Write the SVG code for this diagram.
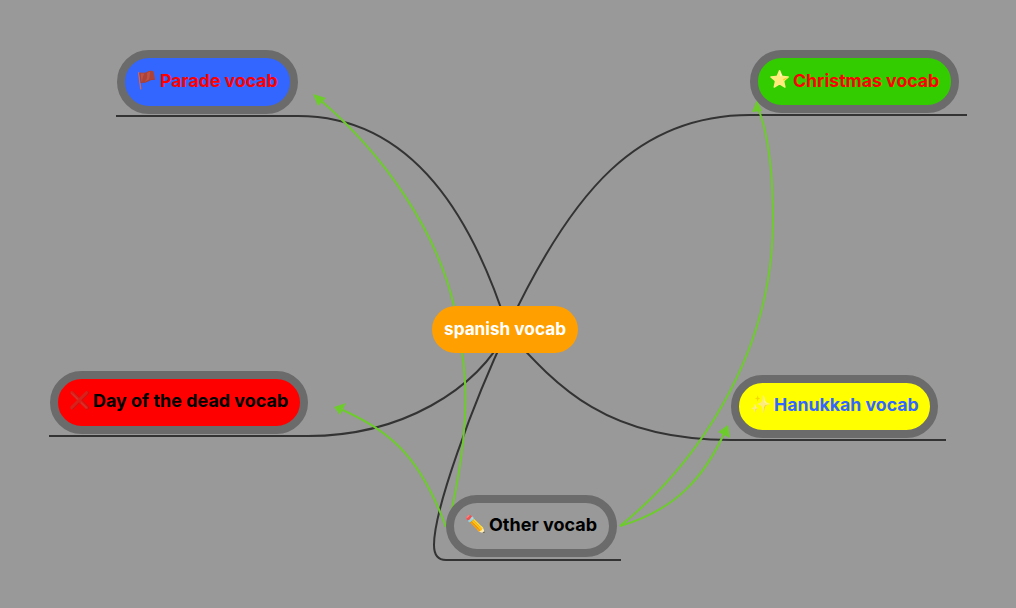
<svg xmlns="http://www.w3.org/2000/svg" width="1016" height="608" viewBox="0 0 1016 608">
<defs>
<filter id="flagTint" color-interpolation-filters="sRGB"><feColorMatrix type="matrix" values="0.3 0 0 0 0.6  0 0.3 0 0 0.18  0 0 0.3 0 0.14  0 0 0 1 0"/></filter>
<filter id="dim" color-interpolation-filters="sRGB"><feColorMatrix type="matrix" values="0.88 0 0 0 0  0 0.5 0 0 0  0 0 0.5 0 0  0 0 0 1 0"/></filter>
<filter id="pale" color-interpolation-filters="sRGB"><feComponentTransfer><feFuncG type="gamma" exponent="0.45"/><feFuncB type="gamma" exponent="0.45"/></feComponentTransfer></filter>
</defs>
<style>
.n{stroke:#6b6b6b;stroke-width:8}
.t{font-family:"Inter","Noto Sans",sans-serif;font-weight:700;font-size:17.7px}
.e{font-family:"Noto Color Emoji","Noto Sans",sans-serif;font-size:17px}
.c{fill:none;stroke:#333;stroke-width:2}
.g{fill:none;stroke:#6dcc2c;stroke-width:2}
</style>
<rect width="1016" height="608" fill="#999"/>
<g id="connectors">
<path class="c" d="M508 329C474 222 415 116 298 116H116"/>
<path class="c" d="M507 329C572 190 638 115 750 115H967"/>
<path class="c" d="M508 329C477 391 400 436 308 436H49"/>
<path class="c" d="M505 329C557 386 604 440 731 440H946"/>
<path class="c" d="M508 329C472 405 434 510 434 545Q434 560 446 560H621"/>
<path class="g" d="M454 306C437 232 385 155 318 98"/>
<path class="g" d="M446 527C418 451 386 429 336 407"/>
<path class="g" d="M448 527C461 470 471 410 462 352"/>
<path class="g" d="M620 526C690 470 773 360 773 220C773 170 768 130 756 103"/>
<path class="g" d="M620 526C675 510 705 478 727 427"/>
<path d="M313 94L326 98L318 106Z M334 407L346 403L340 415Z M757 100L752 112L762 111Z M728 425L718 432L730 438Z" fill="#6dcc2c"/>
</g>
<g id="root"><rect x="432" y="306" width="146" height="47" rx="23.5" fill="#ff9f00"/><text class="t" x="505" y="335" text-anchor="middle" fill="#fff" style="font-size:17.2px">spanish vocab</text></g>
<g id="parade"><rect class="n" x="121" y="54" width="173" height="56" rx="28" fill="#3366ff"/><text class="e" x="136" y="86" filter="url(#flagTint)">🏴</text><text class="t" x="160" y="87" fill="#ff0000">Parade vocab</text></g>
<g id="christmas"><rect class="n" x="754" y="54" width="201" height="55" rx="27.5" fill="#33cc00"/><text class="e" x="769" y="85" filter="url(#pale)">⭐</text><text class="t" x="793" y="87" fill="#ff0000">Christmas vocab</text></g>
<g id="dead"><rect class="n" x="54" y="375" width="250" height="55" rx="27.5" fill="#ff0000"/><text class="e" x="69" y="406" filter="url(#dim)">❌</text><text class="t" x="93" y="407" fill="#000" style="font-size:17.95px">Day of the dead vocab</text></g>
<g id="hanukkah"><rect class="n" x="735" y="379" width="199" height="55" rx="27.5" fill="#ffff00"/><text class="e" x="750" y="410" filter="url(#pale)">✨</text><text class="t" x="774" y="411" fill="#3366ff">Hanukkah vocab</text></g>
<g id="other"><rect class="n" x="450" y="499" width="163" height="54" rx="27" fill="#999"/><text class="e" x="465" y="530">✏️</text><text class="t" x="489" y="531" fill="#000" style="font-size:18px">Other vocab</text></g>
</svg>
